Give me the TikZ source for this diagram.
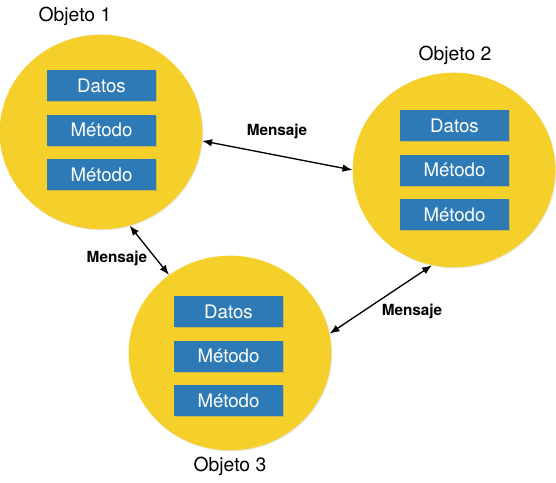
\documentclass[tikz,border=0pt]{standalone}
\usepackage{fontspec}
\setmainfont{TeX Gyre Heros}
\usepackage{xcolor}
\usepackage{tikz}
\usetikzlibrary{arrows.meta,positioning,shapes.geometric,shadows}
\definecolor{objyellow}{RGB}{245,208,43}
\definecolor{campoblue}{RGB}{46,122,182}

\begin{document}
\begin{tikzpicture}[
  x=0.75pt, y=-0.75pt, node distance=9.75pt,
  obj/.style={ellipse, inner sep=0pt, minimum width=152pt, minimum height=146pt, fill=objyellow,
    drop shadow={shadow xshift=0.6pt, shadow yshift=-0.8pt, opacity=0.18}},
  campo/.style={inner sep=0pt, minimum width=81.75pt, minimum height=23.25pt, fill=campoblue, text=white,
    font=\fontsize{14}{16}\selectfont,
    drop shadow={shadow xshift=0.6pt, shadow yshift=-1pt, opacity=0.35}},
  tit/.style={font=\fontsize{14.5}{16}\selectfont},
  msg/.style={font=\bfseries\fontsize{11.5}{13}\selectfont},
  arr/.style={{Latex[length=2.6mm,width=2mm]}-{Latex[length=2.6mm,width=2mm]}, line width=1pt}
]
\useasboundingbox (0,0) rectangle (556,482);
% objetos
\node[obj] (o1) at (101,132) {};
\node[obj] (o2) at (454,170) {};
\node[obj] (o3) at (230,353) {};
% campos
\node[campo] (d1) at (101.5,85.5) {Datos};
\node[campo, below=of d1] (ma1) {Método};
\node[campo, below=of ma1] (mb1) {Método};
\node[campo] (d2) at (454.5,125.5) {Datos};
\node[campo, below=of d2] (ma2) {Método};
\node[campo, below=of ma2] (mb2) {Método};
\node[campo] (d3) at (228.5,311.5) {Datos};
\node[campo, below=of d3] (ma3) {Método};
\node[campo, below=of ma3] (mb3) {Método};
% titulos
\node[tit] (t1) at (75,16) {Objeto 1};
\node[tit] (t2) at (455,55) {Objeto 2};
\node[tit] (t3) at (230,466) {Objeto 3};
% mensajes
\draw[arr] (o1.-5) -- (o2.180);
\draw[arr] (o1.-73) -- (o3.128);
\draw[arr] (o3.11) -- (o2.-103);
\node[msg] (m12) at (277,131) {Mensaje};
\node[msg] (m13) at (117,258) {Mensaje};
\node[msg] (m32) at (412,311) {Mensaje};
\end{tikzpicture}
\end{document}
